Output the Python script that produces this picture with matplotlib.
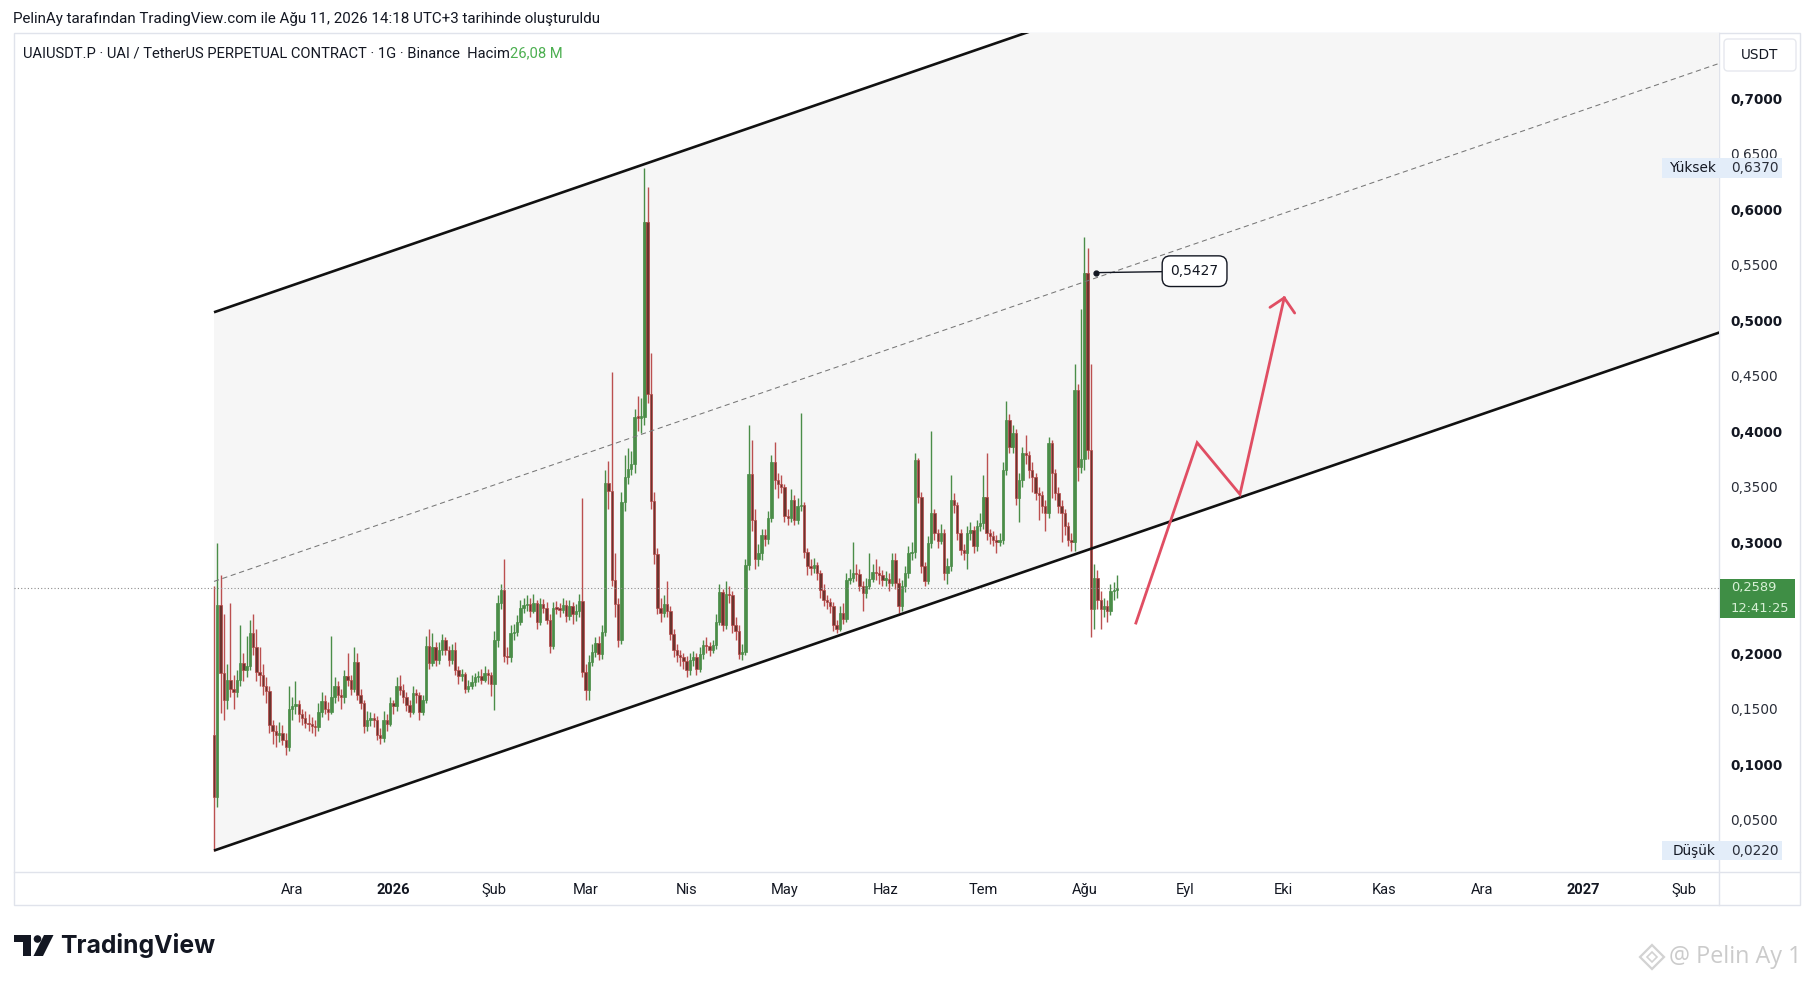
import datetime as dt
import matplotlib
matplotlib.use("Agg")
import matplotlib.pyplot as plt
import matplotlib.dates as mdates
import numpy as np
from matplotlib.patches import Rectangle, FancyBboxPatch, Polygon, Circle
from matplotlib.transforms import blended_transform_factory

plt.rcParams['font.family'] = ['DejaVu Sans']

W, H = 1814, 981

# ---- data (daily candles) ----
first_day = dt.datetime(2025, 11, 7)
first_open = 0.126
closes = [
    0.070, 0.243, 0.182, 0.158, 0.176, 0.168, 0.165, 0.176, 0.191, 0.185,
    0.188, 0.218, 0.205, 0.183, 0.180, 0.170, 0.166, 0.135, 0.130, 0.126,
    0.128, 0.122, 0.115, 0.150, 0.152, 0.154, 0.145, 0.141, 0.137, 0.136,
    0.134, 0.133, 0.147, 0.157, 0.150, 0.147, 0.160, 0.170, 0.162, 0.160,
    0.179, 0.176, 0.168, 0.192, 0.162, 0.155, 0.134, 0.140, 0.141, 0.140,
    0.126, 0.123, 0.140, 0.136, 0.155, 0.152, 0.170, 0.167, 0.160, 0.153,
    0.147, 0.164, 0.162, 0.147, 0.158, 0.206, 0.191, 0.205,
    0.194, 0.203, 0.212, 0.203, 0.194, 0.203, 0.185, 0.179, 0.181, 0.168,
    0.170, 0.174, 0.178, 0.179, 0.176, 0.182, 0.180, 0.172, 0.212, 0.245,
    0.257, 0.197,
    0.196, 0.218, 0.219, 0.228, 0.241, 0.243, 0.244, 0.238, 0.245, 0.228,
    0.244, 0.241, 0.230, 0.206, 0.241, 0.240, 0.239, 0.243, 0.233, 0.242,
    0.235, 0.238, 0.247, 0.183, 0.167, 0.192, 0.201, 0.209, 0.199, 0.219,
    0.353, 0.346, 0.266, 0.244, 0.212, 0.336, 0.359, 0.366, 0.370, 0.413,
    0.412, 0.413, 0.588, 0.433, 0.337, 0.289, 0.241, 0.236, 0.244, 0.238,
    0.217, 0.203, 0.198, 0.196, 0.193, 0.185, 0.194, 0.196, 0.186, 0.199,
    0.207, 0.206, 0.203, 0.207, 0.228, 0.255, 0.225, 0.253, 0.252, 0.225,
    0.220, 0.199, 0.201, 0.279, 0.361, 0.320, 0.285, 0.290, 0.306, 0.303,
    0.322, 0.372, 0.356, 0.352,
    0.350, 0.323, 0.322, 0.338, 0.320, 0.332, 0.333, 0.291, 0.278, 0.277,
    0.279, 0.272, 0.257, 0.248, 0.246, 0.242, 0.225, 0.222, 0.236, 0.231,
    0.266, 0.268, 0.272, 0.271, 0.260, 0.254, 0.260, 0.267, 0.273, 0.272,
    0.270, 0.266, 0.267, 0.263, 0.284, 0.263, 0.242, 0.260, 0.272, 0.290,
    0.291, 0.374, 0.341, 0.278, 0.265, 0.299, 0.326, 0.308, 0.301, 0.308,
    0.272, 0.278, 0.338, 0.333, 0.308, 0.293, 0.290, 0.308, 0.311, 0.296,
    0.314, 0.317, 0.341, 0.308, 0.305, 0.302, 0.300, 0.302, 0.365, 0.410,
    0.386, 0.398, 0.340, 0.356, 0.380, 0.378, 0.365, 0.359, 0.344, 0.342,
    0.332, 0.326, 0.389, 0.362, 0.344, 0.332, 0.326, 0.314, 0.302, 0.300,
    0.437, 0.368, 0.375, 0.5427, 0.383, 0.240, 0.268, 0.248, 0.240, 0.242,
    0.238, 0.256, 0.257, 0.2589,
]
highs = [
    0.260, 0.299, 0.270, 0.235, 0.190, 0.245, 0.180, 0.185, 0.225, 0.200,
    0.215, 0.230, 0.235, 0.222, 0.205, 0.190, 0.178, 0.170, 0.140, 0.135,
    0.138, 0.135, 0.128, 0.170, 0.160, 0.175, 0.158, 0.150, 0.148, 0.145,
    0.142, 0.140, 0.155, 0.165, 0.162, 0.156, 0.215, 0.178, 0.175, 0.168,
    0.185, 0.200, 0.180, 0.205, 0.200, 0.168, 0.158, 0.148, 0.147, 0.146,
    0.143, 0.132, 0.148, 0.145, 0.160, 0.158, 0.178, 0.180, 0.172, 0.165,
    0.158, 0.170, 0.168, 0.165, 0.162, 0.215, 0.222, 0.218,
    0.210, 0.210, 0.217, 0.214, 0.206, 0.208, 0.210, 0.188, 0.186, 0.183,
    0.176, 0.180, 0.182, 0.184, 0.186, 0.188, 0.186, 0.183, 0.220, 0.252,
    0.262, 0.285,
    0.205, 0.225, 0.226, 0.234, 0.248, 0.250, 0.252, 0.250, 0.253, 0.248,
    0.250, 0.249, 0.246, 0.235, 0.246, 0.247, 0.245, 0.250, 0.248, 0.248,
    0.246, 0.244, 0.253, 0.340, 0.190, 0.198, 0.208, 0.214, 0.215, 0.225,
    0.365, 0.373, 0.453, 0.290, 0.250, 0.345, 0.378, 0.385, 0.382, 0.420,
    0.432, 0.430, 0.637, 0.620, 0.470, 0.345, 0.295, 0.250, 0.252, 0.265,
    0.242, 0.222, 0.208, 0.203, 0.200, 0.197, 0.200, 0.202, 0.200, 0.205,
    0.212, 0.214, 0.210, 0.212, 0.235, 0.262, 0.258, 0.265, 0.260, 0.256,
    0.232, 0.225, 0.208, 0.285, 0.405, 0.392, 0.330, 0.298, 0.312, 0.312,
    0.328, 0.378, 0.390, 0.362,
    0.360, 0.352, 0.330, 0.348, 0.342, 0.340, 0.416, 0.336, 0.295, 0.285,
    0.286, 0.282, 0.275, 0.262, 0.252, 0.250, 0.246, 0.230, 0.242, 0.245,
    0.272, 0.276, 0.300, 0.280, 0.276, 0.265, 0.268, 0.290, 0.280, 0.285,
    0.278, 0.275, 0.274, 0.272, 0.290, 0.290, 0.268, 0.266, 0.278, 0.296,
    0.300, 0.380, 0.376, 0.345, 0.282, 0.305, 0.400, 0.330, 0.312, 0.316,
    0.312, 0.286, 0.360, 0.344, 0.336, 0.312, 0.298, 0.314, 0.318, 0.314,
    0.320, 0.326, 0.360, 0.380, 0.312, 0.310, 0.306, 0.308, 0.372, 0.427,
    0.415, 0.405, 0.402, 0.362, 0.386, 0.396, 0.382, 0.372, 0.362, 0.350,
    0.346, 0.338, 0.395, 0.392, 0.366, 0.350, 0.338, 0.330, 0.318, 0.308,
    0.460, 0.442, 0.510, 0.575, 0.565, 0.460, 0.280, 0.275, 0.256, 0.250,
    0.248, 0.262, 0.264, 0.270,
]
lows = [
    0.022, 0.061, 0.146, 0.140, 0.150, 0.160, 0.150, 0.160, 0.170, 0.175,
    0.178, 0.185, 0.198, 0.175, 0.170, 0.162, 0.155, 0.128, 0.118, 0.115,
    0.120, 0.117, 0.108, 0.112, 0.140, 0.145, 0.138, 0.135, 0.132, 0.130,
    0.128, 0.125, 0.130, 0.142, 0.145, 0.140, 0.145, 0.155, 0.157, 0.150,
    0.155, 0.170, 0.162, 0.165, 0.158, 0.150, 0.128, 0.130, 0.134, 0.133,
    0.122, 0.118, 0.120, 0.130, 0.134, 0.145, 0.148, 0.162, 0.155, 0.148,
    0.142, 0.145, 0.155, 0.140, 0.144, 0.155, 0.186, 0.188,
    0.188, 0.190, 0.198, 0.198, 0.188, 0.190, 0.180, 0.172, 0.175, 0.164,
    0.165, 0.168, 0.170, 0.174, 0.172, 0.174, 0.172, 0.161, 0.149, 0.205,
    0.240, 0.192,
    0.190, 0.192, 0.212, 0.215, 0.225, 0.236, 0.238, 0.232, 0.236, 0.222,
    0.225, 0.236, 0.226, 0.200, 0.204, 0.235, 0.232, 0.236, 0.228, 0.230,
    0.226, 0.229, 0.232, 0.178, 0.158, 0.158, 0.188, 0.196, 0.194, 0.195,
    0.215, 0.330, 0.260, 0.232, 0.205, 0.208, 0.328, 0.352, 0.360, 0.362,
    0.400, 0.398, 0.405, 0.425, 0.330, 0.280, 0.235, 0.228, 0.232, 0.232,
    0.212, 0.196, 0.192, 0.188, 0.186, 0.178, 0.180, 0.188, 0.180, 0.183,
    0.195, 0.200, 0.197, 0.200, 0.204, 0.225, 0.220, 0.222, 0.245, 0.218,
    0.212, 0.195, 0.194, 0.198, 0.275, 0.310, 0.276, 0.278, 0.284, 0.296,
    0.298, 0.318, 0.348, 0.340,
    0.344, 0.318, 0.315, 0.318, 0.315, 0.316, 0.328, 0.286, 0.270, 0.270,
    0.272, 0.266, 0.250, 0.242, 0.240, 0.236, 0.220, 0.218, 0.220, 0.226,
    0.228, 0.262, 0.264, 0.265, 0.256, 0.238, 0.250, 0.258, 0.264, 0.266,
    0.262, 0.260, 0.260, 0.256, 0.260, 0.258, 0.236, 0.238, 0.255, 0.268,
    0.284, 0.286, 0.335, 0.272, 0.260, 0.262, 0.295, 0.302, 0.295, 0.298,
    0.266, 0.262, 0.274, 0.326, 0.302, 0.288, 0.284, 0.276, 0.302, 0.290,
    0.292, 0.310, 0.312, 0.302, 0.298, 0.296, 0.290, 0.296, 0.298, 0.360,
    0.380, 0.380, 0.333, 0.318, 0.350, 0.370, 0.358, 0.345, 0.338, 0.320,
    0.326, 0.310, 0.322, 0.340, 0.338, 0.326, 0.300, 0.306, 0.296, 0.292,
    0.292, 0.355, 0.362, 0.365, 0.375, 0.214, 0.222, 0.240, 0.222, 0.232,
    0.228, 0.234, 0.248, 0.250,
]
volume_text = "26,08 M"
timer_text = "12:41:25"

month_ticks = ["2025-12-01", "2026-01-01", "2026-02-01", "2026-03-01", "2026-04-01",
               "2026-05-01", "2026-06-01", "2026-07-01", "2026-08-01", "2026-09-01",
               "2026-10-01", "2026-11-01", "2026-12-01", "2027-01-01", "2027-02-01"]
month_labels = ["Ara", "2026", "Şub", "Mar", "Nis", "May", "Haz", "Tem", "Ağu",
                "Eyl", "Eki", "Kas", "Ara", "2027", "Şub"]
# 0,2500 is hidden behind the last-price tag in the original
price_ticks = [0.05, 0.10, 0.15, 0.20, 0.30, 0.35, 0.40, 0.45, 0.50, 0.55,
               0.60, 0.65, 0.70]

# drawings on the chart
channel_days = ["2025-11-07", "2027-02-12"]
channel_low = [0.0220, 0.4890]
channel_width = 0.485
path_times = ["2026-08-16 19:00", "2026-09-04 14:00", "2026-09-17 17:00", "2026-10-01 07:00"]
path_prices = [0.227, 0.3895, 0.343, 0.520]
head_times = ["2026-09-26 22:00", "2026-10-04 12:00"]
head_prices = [0.5114, 0.5063]
note_time, note_price = "2026-08-04 12:00", 0.5427
label_time, label_price = "2026-09-03 19:00", 0.544

# ---- figure ----
fig = plt.figure(figsize=(W / 100, H / 100), dpi=100)
fig.patch.set_facecolor("white")

bg = fig.add_axes([0, 0, 1, 1], zorder=0)
bg.set_xlim(0, W)
bg.set_ylim(H, 0)
bg.set_axis_off()

border = "#e0e3eb"
bg.add_patch(Rectangle((14, 33), 1786, 872, fill=False, ec=border, lw=1))
bg.plot([1719, 1719], [33, 905], color=border, lw=1)
bg.plot([14, 1800], [872, 872], color=border, lw=1)

bg.text(13, 19.5, "PelinAy tarafından TradingView.com ile Ağu 11, 2026 14:18 UTC+3 tarihinde oluşturuldu",
        va="center", ha="left", fontsize=10.9, family="Roboto", color="#131722")

left, right, top, bottom = 14, 1719, 33, 872
ax = fig.add_axes([left / W, 1 - bottom / H, (right - left) / W, (bottom - top) / H], zorder=1)
ax.set_facecolor("none")
for s in ax.spines.values():
    s.set_visible(False)

x0 = mdates.date2num(first_day)
ax.set_xlim(x0 - 61.35, x0 + 461.66)
ax.set_ylim(0.0027, 0.7586)

# channel
cx = mdates.date2num([dt.datetime.fromisoformat(d) for d in channel_days])
c_low = np.array(channel_low)
c_high = c_low + channel_width
c_mid = c_low + channel_width / 2
ax.fill_between(cx, c_low, c_high, color="#f6f6f6", lw=0, zorder=0.5)
ax.plot(cx, c_low, color="#111111", lw=1.9, zorder=3, solid_capstyle="butt")
ax.plot(cx, c_high, color="#111111", lw=1.9, zorder=3, solid_capstyle="butt")
ax.plot(cx, c_mid, color="#777777", lw=0.75, ls=(0, (5, 3.5)), zorder=3)

# candles
opens = [first_open] + closes[:-1]
o = np.array(opens)
c = np.array(closes)
xs = mdates.date2num([first_day + dt.timedelta(days=i) for i in range(len(closes))])
up = c >= o
face = np.where(up, "#4a8d48", "#6a342e")
edge = np.where(up, "#4a8d48", "#b84848")
wick = np.where(up, "#4a8d48", "#bb5050")
ax.vlines(xs, lows, highs, colors=wick, lw=1.0, zorder=2)
ax.bar(xs, np.maximum(np.abs(c - o), 0.0012), bottom=np.minimum(o, c), width=0.74,
       color=face, edgecolor=edge, linewidth=0.5, zorder=2.1)

# last price line
last = closes[-1]
ax.axhline(last, color="#8c8c8c", lw=0.8, ls=(0, (1, 2)), zorder=2.5)

# annotation of the peak close
nt = mdates.date2num(dt.datetime.fromisoformat(note_time))
lt = mdates.date2num(dt.datetime.fromisoformat(label_time))
ax.plot([nt], [note_price], "o", color="#131722", ms=3.5, zorder=4)
ax.annotate(f"{note_price:.4f}".replace(".", ","), xy=(nt, note_price), xytext=(lt, label_price),
            ha="center", va="center", fontsize=10, color="#131722", zorder=4,
            bbox=dict(boxstyle="round,pad=0.6,rounding_size=0.6", fc="white", ec="#131722", lw=1),
            arrowprops=dict(arrowstyle="-", color="#131722", lw=1, shrinkA=0, shrinkB=0))

# red projection path
red = "#e04e63"
pt = mdates.date2num([dt.datetime.fromisoformat(t) for t in path_times])
ax.plot(pt, path_prices, color=red, lw=2, zorder=4, solid_joinstyle="miter")
ht = mdates.date2num([dt.datetime.fromisoformat(t) for t in head_times])
for hx, hy in zip(ht, head_prices):
    ax.plot([pt[-1], hx], [path_prices[-1], hy], color=red, lw=2, zorder=4, solid_capstyle="round")

# axes ticks
ax.yaxis.tick_right()
ax.set_yticks(price_ticks)
ax.set_yticklabels([f"{v:.4f}".replace(".", ",") for v in price_ticks])
ax.tick_params(axis="y", length=0, pad=8, labelsize=9.8, labelcolor="#2a2e39")
for v, lbl in zip(price_ticks, ax.get_yticklabels()):
    if round(v * 100) % 10 == 0:
        lbl.set_fontweight("bold")
        lbl.set_color("#131722")

ax.set_xticks(mdates.date2num([dt.datetime.fromisoformat(d) for d in month_ticks]))
ax.set_xticklabels(month_labels)
ax.tick_params(axis="x", length=0, pad=8, labelsize=10.5, labelcolor="#131722")
for lbl in ax.get_xticklabels():
    lbl.set_fontfamily("Roboto")
    if lbl.get_text().isdigit():
        lbl.set_fontweight("bold")

# price tags on the right scale
tr = blended_transform_factory(ax.transAxes, ax.transData)
fx = lambda px: (px - left) / (right - left)
hi, lo = max(highs), min(lows)
for name, val in (("Yüksek", hi), ("Düşük", lo)):
    ax.add_patch(Rectangle((fx(1662), val - 0.0088), fx(1782) - fx(1662), 0.0176,
                           transform=tr, fc="#e3edf9", ec="none", clip_on=False, zorder=5))
    ax.text(fx(1716), val, name, transform=tr, ha="right", va="center", fontsize=9.8,
            color="#131722", clip_on=False, zorder=6)
    ax.text(fx(1731), val, f"{val:.4f}".replace(".", ","), transform=tr, ha="left", va="center",
            fontsize=9.8, color="#2a2e39", clip_on=False, zorder=6)

ax.add_patch(Rectangle((fx(1720), 0.2315), fx(1795) - fx(1720), 0.0355, transform=tr,
                       fc="#3f8e45", ec="none", clip_on=False, zorder=5))
ax.text(fx(1731), 0.2594, f"{last:.4f}".replace(".", ","), transform=tr, ha="left",
        va="center", fontsize=9.4, color="#d8f0d6", clip_on=False, zorder=6)
ax.text(fx(1731), 0.2403, timer_text, transform=tr, ha="left", va="center",
        fontsize=9.4, color="#d8f0d6", clip_on=False, zorder=6)

# foreground: legend text, unit box, logos
fg = fig.add_axes([0, 0, 1, 1], zorder=2)
fg.set_xlim(0, W)
fg.set_ylim(H, 0)
fg.set_axis_off()

t1 = fg.text(23, 53, "UAIUSDT.P · UAI / TetherUS PERPETUAL CONTRACT · 1G · Binance  Hacim",
             va="center", ha="left", fontsize=10.6, family="Roboto", color="#131722")
fg.annotate(volume_text, xy=(1, 0.5), xycoords=t1, va="center", ha="left",
            fontsize=10.6, family="Roboto", color="#4caf50")

fg.add_patch(FancyBboxPatch((1724, 39), 72, 32, boxstyle="round,pad=0,rounding_size=4",
                            fc="white", ec="#e6e8ee", lw=1))
fg.text(1760, 55, "USDT", ha="center", va="center", fontsize=9.8, color="#131722")

# TradingView logo
fg.add_patch(Polygon([(14, 935), (31, 935), (31, 956), (23, 956), (23, 942), (14, 942)],
                     closed=True, fc="#131722", ec="none"))
fg.add_patch(Circle((37.5, 939), 3.8, fc="#131722", ec="none"))
fg.add_patch(Polygon([(44, 935), (53.5, 935), (43, 956), (33.5, 956)], closed=True,
                     fc="#131722", ec="none"))
fg.text(60, 945, "TradingView", ha="left", va="center", fontsize=17.8, family="Inter",
        fontweight="bold", color="#131722")

# watermark
fg.add_patch(Polygon([(1652, 945), (1664, 957), (1652, 969), (1640, 957)], closed=True,
                     fill=False, ec="#d2d2d2", lw=1.6))
fg.add_patch(Polygon([(1652, 952), (1657, 957), (1652, 962), (1647, 957)], closed=True,
                     fill=False, ec="#d2d2d2", lw=1.2))
fg.text(1669, 957, "@ Pelin Ay 1", ha="left", va="center", fontsize=16.8, family="Open Sans",
        color="#cbcbcb")

fig.savefig("out.png", dpi=100, facecolor="white")
